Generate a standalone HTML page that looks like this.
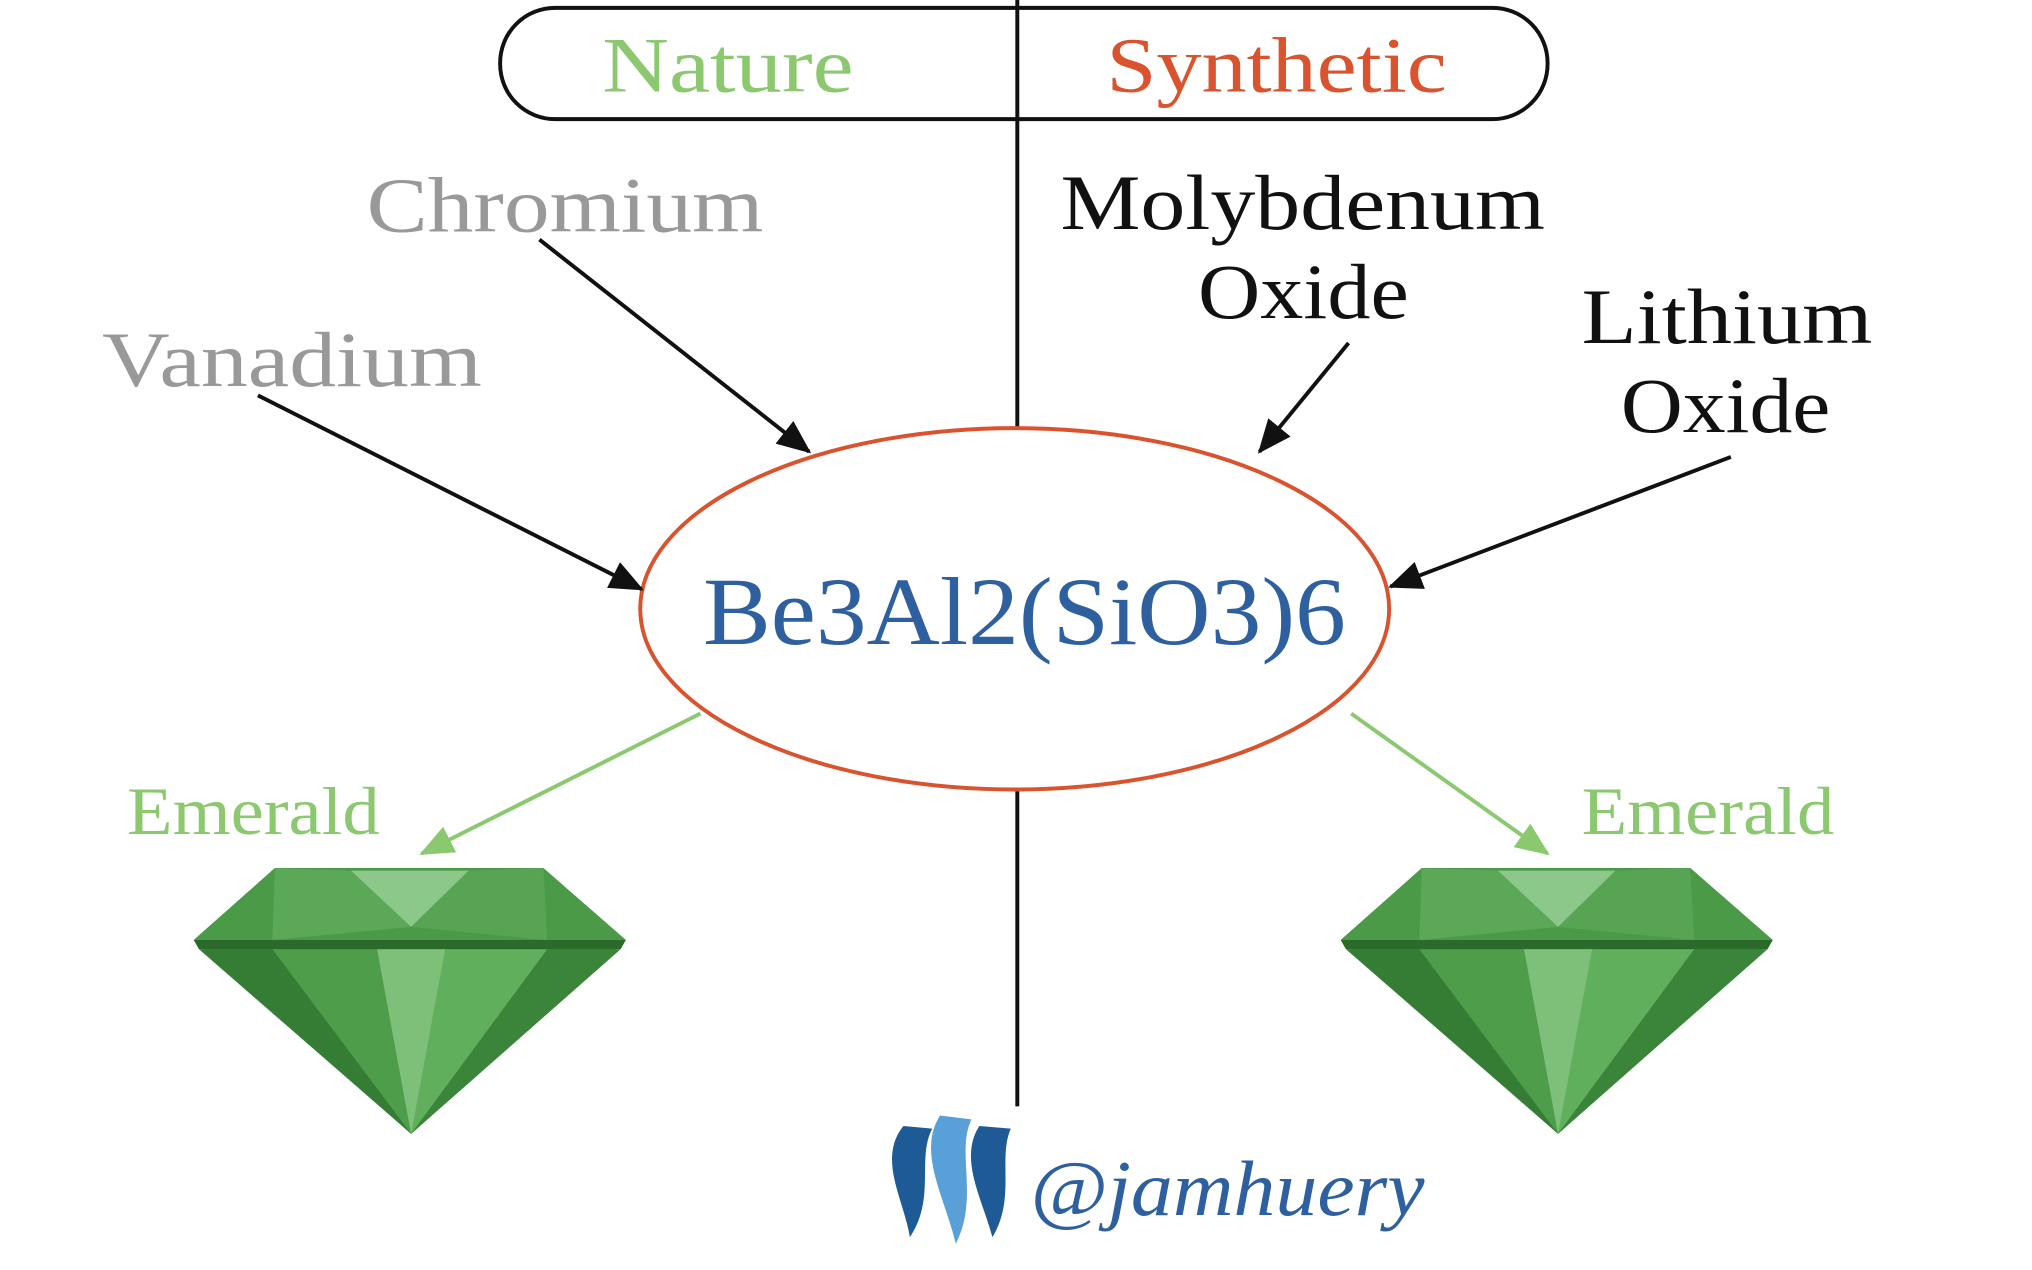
<!DOCTYPE html>
<html><head><meta charset="utf-8"><style>
html,body{margin:0;padding:0;background:#fff;}
svg{display:block;}
text{font-family:"Liberation Serif","DejaVu Serif",serif;}
</style></head><body>
<svg width="2032" height="1270" viewBox="0 0 1552 970" preserveAspectRatio="none" xmlns="http://www.w3.org/2000/svg">
<defs>
<marker id="ab" markerWidth="26" markerHeight="22" refX="24" refY="11" orient="auto" markerUnits="userSpaceOnUse" viewBox="0 0 26 22"><path d="M0,0 L26,11 L0,22 z" fill="#111"/></marker>
<marker id="ag" markerWidth="26" markerHeight="22" refX="24" refY="11" orient="auto" viewBox="0 0 26 22" markerUnits="userSpaceOnUse"><path d="M0,0 L26,11 L0,22 z" fill="#8cc870"/></marker>
<g id="gem">
<polygon points="62,0 267,0 330,55 166,203 0,55" fill="#3f8f3f"/>
<polygon points="62,0 267,0 330,55 0,55" fill="#4a9a48"/>
<polygon points="120,2 210,2 166,45" fill="#8cc88a"/>
<polygon points="62,0 120,2 166,45 60,55" fill="#5aa858"/>
<polygon points="267,0 210,2 166,45 270,55" fill="#56a454"/>
<polygon points="0,55 330,55 326,62 4,62" fill="#2a6a2a"/>
<polygon points="60,62 166,62 166,203" fill="#4d9d4b"/>
<polygon points="166,62 270,62 166,203" fill="#5faf5c"/>
<polygon points="140,62 192,62 166,203" fill="#7ebf7a"/>
<polygon points="4,62 60,62 166,203" fill="#357d35"/>
<polygon points="326,62 270,62 166,203" fill="#3a853a"/>
</g>
</defs>
<rect x="382" y="6" width="800" height="85" rx="42" fill="none" stroke="#111" stroke-width="3"/>
<line x1="777" y1="0" x2="777" y2="326" stroke="#111" stroke-width="3"/>
<line x1="777" y1="604" x2="777" y2="845" stroke="#111" stroke-width="3"/>
<g lengthAdjust="spacingAndGlyphs">
<text x="460" y="70" font-size="60" fill="#8cc870" textLength="192" lengthAdjust="spacingAndGlyphs">Nature</text>
<text x="845" y="70" font-size="60" fill="#d9532e" textLength="260" lengthAdjust="spacingAndGlyphs">Synthetic</text>
<text x="280" y="177" font-size="60" fill="#999" textLength="303" lengthAdjust="spacingAndGlyphs">Chromium</text>
<text x="78" y="295" font-size="60" fill="#999" textLength="290" lengthAdjust="spacingAndGlyphs">Vanadium</text>
<text x="810" y="175" font-size="60" fill="#111" textLength="370" lengthAdjust="spacingAndGlyphs">Molybdenum</text>
<text x="915" y="243" font-size="60" fill="#111" textLength="161" lengthAdjust="spacingAndGlyphs">Oxide</text>
<text x="1208" y="262" font-size="60" fill="#111" textLength="222" lengthAdjust="spacingAndGlyphs">Lithium</text>
<text x="1238" y="330" font-size="60" fill="#111" textLength="160" lengthAdjust="spacingAndGlyphs">Oxide</text>
<text x="537" y="492" font-size="74" fill="#2e5f9e" textLength="491" lengthAdjust="spacingAndGlyphs">Be3Al2(SiO3)6</text>
<text x="97" y="637" font-size="52" fill="#8cc870" textLength="193" lengthAdjust="spacingAndGlyphs">Emerald</text>
<text x="1208" y="637" font-size="52" fill="#8cc870" textLength="193" lengthAdjust="spacingAndGlyphs">Emerald</text>
<text x="787" y="928" font-size="60" font-style="italic" fill="#2e5f9e" textLength="301" lengthAdjust="spacingAndGlyphs">@jamhuery</text>
</g>
<ellipse cx="775" cy="465" rx="286" ry="138" fill="none" stroke="#d9532e" stroke-width="3"/>
<g stroke="#111" stroke-width="3" marker-end="url(#ab)">
<line x1="412" y1="183" x2="618" y2="345"/>
<line x1="197" y1="302" x2="490" y2="450"/>
<line x1="1030" y1="262" x2="962" y2="345"/>
<line x1="1322" y1="349" x2="1062" y2="448"/>
</g>
<g stroke="#8cc870" stroke-width="3" marker-end="url(#ag)">
<line x1="535" y1="545" x2="322" y2="652"/>
<line x1="1032" y1="545" x2="1182" y2="652"/>
</g>
<use href="#gem" x="148" y="663"/>
<use href="#gem" x="1024" y="663"/>
<g>
<path d="M690,860 C670,885 690,915 695,945 C715,915 700,885 712,862 Z" fill="#1e5a96"/>
<path d="M718,852 C700,880 722,915 730,950 C748,915 730,880 742,855 Z" fill="#5aa0d8"/>
<path d="M748,860 C732,885 750,915 758,945 C776,915 762,885 772,862 Z" fill="#1e5a96"/>
</g>
</svg>
</body></html>
